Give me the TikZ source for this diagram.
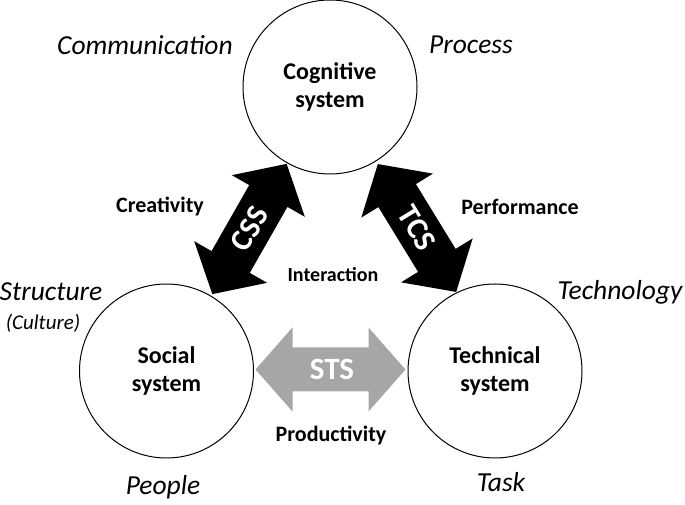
\documentclass[tikz,border=0pt]{standalone}
\usepackage{fontspec}
\setmainfont{Carlito}
\begin{document}
\begin{tikzpicture}[x=1pt,y=1pt,
  sys/.style={circle,draw,line width=1pt,minimum size=174pt,inner sep=0pt,align=center,font=\fontsize{24}{27.5}\selectfont\bfseries},
  lab/.style={font=\fontsize{22}{27}\selectfont\bfseries},
  itl/.style={font=\fontsize{27.5}{32}\selectfont\itshape},
  arrtext/.style={text=white,inner sep=0pt,font=\fontsize{31}{34}\selectfont\bfseries},
  dbl/.pic={\fill[#1] (-75,0) -- (-38,42) -- (-38,22) -- (38,22) -- (38,42) -- (75,0) -- (38,-42) -- (38,-22) -- (-38,-22) -- (-38,-42) -- cycle;}
]
\useasboundingbox (0,0) rectangle (685,505);
\definecolor{stsgray}{HTML}{A6A6A6}
% systems
\node[sys] (cog) at (330,418) {Cognitive\\system};
\node[sys] (soc) at (166.5,134) {Social\\system};
\node[sys] (tec) at (495,134) {Technical\\system};
% arrows
\pic[rotate=60.3] at (249.5,276) {dbl=black};
\pic[rotate=-58.5] at (417,277) {dbl=black};
\pic at (330.5,135.5) {dbl=stsgray};
\node[arrtext,rotate=60.3] (css) at (249.5,276) {CSS};
\node[arrtext,rotate=-58.5] (tcs) at (417,277) {TCS};
\node[arrtext] (sts) at (332,135.5) {STS};
% bold labels
\node[lab] (crea) at (160,298) {Creativity};
\node[lab] (perf) at (520,298) {Performance};
\node[lab,font=\fontsize{20}{24}\selectfont\bfseries] (inter) at (333,230) {Interaction};
\node[lab] (prod) at (331,70) {Productivity};
% italic labels
\node[itl] (comm) at (145,460) {Communication};
\node[itl] (proc) at (471,460) {Process};
\node[itl] (struc) at (51,213) {Structure};
\node[font=\fontsize{21}{25}\selectfont\itshape] (cult) at (43,182) {(Culture)};
\node[itl] (techn) at (620,213) {Technology};
\node[itl] (peop) at (163,18) {People};
\node[itl] (task) at (501,23) {Task};
\end{tikzpicture}
\end{document}
